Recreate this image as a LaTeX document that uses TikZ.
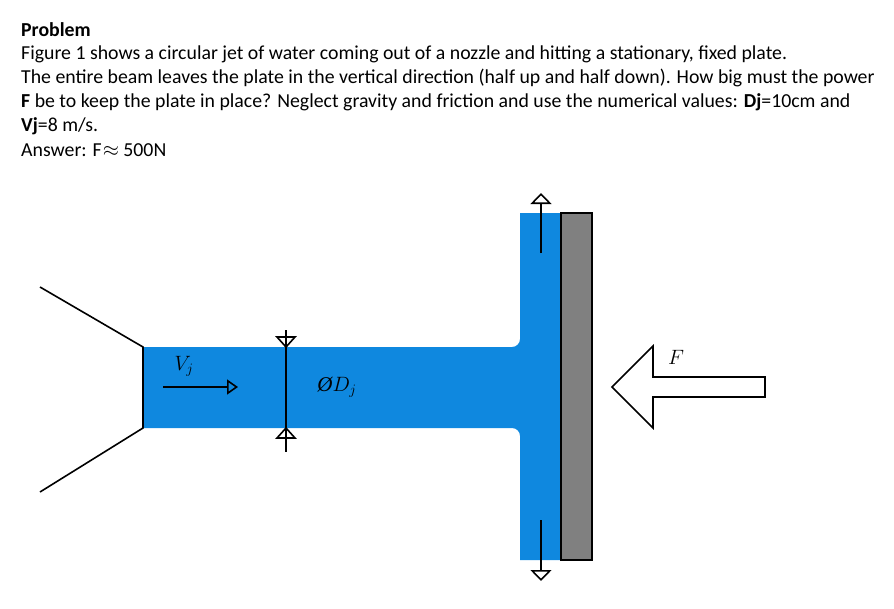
\documentclass[tikz,border=0pt]{standalone}
\usepackage{fontspec}
\setmainfont{Carlito}
\newfontfamily\serifit{Liberation Serif}
\usetikzlibrary{arrows.meta}
\definecolor{jet}{HTML}{0F88DF}
\definecolor{plate}{HTML}{808080}
\begin{document}
\begin{tikzpicture}[x=1pt,y=-1pt,
  txt/.style={anchor=base west,inner sep=0,font=\fontsize{19.8}{22}\selectfont},
  mlab/.style={font=\fontsize{21}{21}\selectfont},
  opentip/.style={-{Triangle[open,length=11pt,width=15pt]},line width=1.6pt},
  bigtip/.style={-{Triangle[open,length=11pt,width=21pt]},line width=1.6pt},
  ln/.style={line width=1.6pt}]
\useasboundingbox (0,0) rectangle (894,608);
\node[txt] (t0) at (21,36) {\textbf{Problem}};
\node[txt] (t1) at (21,59) {Figure 1 shows a circular jet of water coming out of a nozzle and hitting a stationary, fixed plate.};
\node[txt] (t2) at (21,83) {The entire beam leaves the plate in the vertical direction (half up and half down). How big must the power};
\node[txt] (t3) at (21,107) {\textbf{F} be to keep the plate in place? Neglect gravity and friction and use the numerical values: \textbf{Dj}=10cm and};
\node[txt] (t4) at (21,131) {\textbf{Vj}=8 m/s.};
\node[txt] (t5) at (21,156) {Answer: F\kern1pt$\approx$ 500N};
% water
\fill[jet] (143,347) -- (512,347) arc[start angle=90,end angle=0,radius=8] -- (520,213) -- (562,213) -- (562,560) -- (520,560) -- (520,436) arc[start angle=0,end angle=-90,radius=8] -- (143,428) -- cycle;
% nozzle
\draw[ln] (40,287) -- (143,347) -- (143,428) -- (40,492);
% plate
\draw[ln,fill=plate] (561,213) rectangle (592,560);
% outflow arrows
\coordinate (ua) at (541,253); \coordinate (ub) at (541,193);
\coordinate (da) at (541,520); \coordinate (db) at (541,581);
\draw[bigtip] (ua) -- (ub);
\draw[bigtip] (da) -- (db);
% Vj
\coordinate (va) at (163,387); \coordinate (vb) at (238,387);
\draw[opentip] (va) -- (vb);
\node[mlab] (vj) at (184,366) {$V_j$};
% diameter
\coordinate (d1) at (286,330); \coordinate (d2) at (286,452);
\draw[ln] (d1) -- (d2);
\draw[ln,line join=miter] (277,337) -- (295,337) -- (286,347) -- cycle;
\draw[ln,line join=miter] (277,438) -- (295,438) -- (286,428) -- cycle;
\node[mlab] (dj) at (337,387) {\mbox{\serifit\itshape Ø}$D_j$};
% force arrow
\draw[ln,fill=white] (612,387) -- (653,346) -- (653,377) -- (765,377) -- (765,397) -- (653,397) -- (653,428) -- cycle;
\node[mlab] (F) at (676,357) {$F$};
\end{tikzpicture}
\end{document}
